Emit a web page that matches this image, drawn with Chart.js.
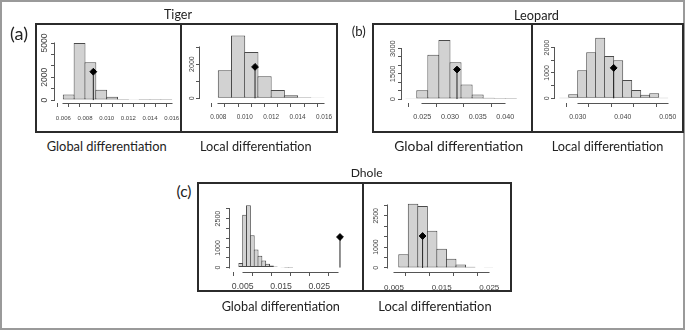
<!DOCTYPE html>
<html><head><meta charset="utf-8">
<script src="https://cdn.jsdelivr.net/npm/chart.js@4.4.1/dist/chart.umd.min.js"></script>
<style>
html,body{margin:0;padding:0;background:#fff;}
#page{position:relative;width:685px;height:330px;overflow:hidden;background:#fff;}
.frame{position:absolute;left:0;top:0;width:685px;height:330px;box-sizing:border-box;border:2px solid #9a9a9a;}
.box{position:absolute;box-sizing:border-box;border:2px solid #2b2b2b;}
.sep{position:absolute;width:2px;background:#2b2b2b;}
.lbl{position:absolute;white-space:nowrap;font-family:Lato,'Open Sans',sans-serif;color:#222;transform:translate(-50%,-50%);line-height:1;}
canvas{position:absolute;}
</style></head>
<body><div id="page">
<div class="frame"></div>
<div class="box" style="left:35px;top:23px;width:303px;height:110px;"></div>
<div class="sep" style="left:180px;top:23px;height:110px;"></div>
<div class="box" style="left:372px;top:23px;width:312px;height:110px;"></div>
<div class="sep" style="left:531px;top:23px;height:110px;"></div>
<div class="box" style="left:197px;top:182px;width:315px;height:110px;"></div>
<div class="sep" style="left:362px;top:182px;height:110px;"></div>
</div>
<script>
// ---------------- DATA ----------------
const tigerGlobalBinStart = 0.006, tigerGlobalBinWidth = 0.001;
const tigerGlobalCounts = [486, 5000, 3310, 910, 290, 90, 35, 8, 3, 2];
const tigerGlobalObserved = [0.00877, 2486];
const tigerGlobalXTicks = [0.006,0.007,0.008,0.009,0.010,0.011,0.012,0.013,0.014,0.015,0.016];
const tigerGlobalXLabels = ['0.006','','0.008','','0.010','','0.012','','0.014','','0.016'];
const tigerGlobalYTicks = [0,1000,2000,3000,4000,5000];
const tigerGlobalYLabels = ['0','','2000','','','5000'];

const tigerLocalBinStart = 0.007, tigerLocalBinWidth = 0.001;
const tigerLocalCounts = [40, 1644, 3675, 2708, 1296, 484, 174, 60, 15];
const tigerLocalObserved = [0.01078, 1837];
const tigerLocalXTicks = [0.008,0.009,0.010,0.011,0.012,0.013,0.014,0.015,0.016];
const tigerLocalXLabels = ['0.008','','0.010','','0.012','','0.014','','0.016'];
const tigerLocalYTicks = [0,1000,2000,3000];
const tigerLocalYLabels = ['0','','2000',''];

const leopardGlobalBinStart = 0.022, leopardGlobalBinWidth = 0.002;
const leopardGlobalCounts = [20, 526, 2630, 3510, 2183, 858, 273, 78, 10, 3];
const leopardGlobalObserved = [0.03127, 1754];
const leopardGlobalXTicks = [0.025,0.030,0.035,0.040];
const leopardGlobalXLabels = ['0.025','0.030','0.035','0.040'];
const leopardGlobalYTicks = [0,500,1000,1500,2000,2500,3000];
const leopardGlobalYLabels = ['0','','','1500','','','3000'];

const leopardLocalBinStart = 0.026, leopardLocalBinWidth = 0.002;
const leopardLocalCounts = [5, 157, 1111, 1817, 2392, 1673, 1503, 719, 327, 140, 196, 5];
const leopardLocalObserved = [0.0380, 1200];
const leopardLocalXTicks = [0.030,0.035,0.040,0.045,0.050];
const leopardLocalXLabels = ['0.030','','0.040','','0.050'];
const leopardLocalYTicks = [0,500,1000,1500,2000];
const leopardLocalYLabels = ['0','','1000','','2000'];

const dholeGlobalBinStart = 0.004, dholeGlobalBinWidth = 0.001;
const dholeGlobalCounts = [226, 2694, 3177, 1645, 919, 597, 355, 194, 100, 50, 25, 12, 6, 3];
const dholeGlobalObserved = [0.0304, 1560];
const dholeGlobalXTicks = [0.005,0.010,0.015,0.020,0.025,0.030];
const dholeGlobalXLabels = ['0.005','','0.015','','0.025',''];
const dholeGlobalYTicks = [0,500,1000,1500,2000,2500,3000];
const dholeGlobalYLabels = ['0','','1000','','','2500',''];

const dholeLocalBinStart = 0.006, dholeLocalBinWidth = 0.002;
const dholeLocalCounts = [651, 3076, 2970, 1788, 924, 439, 167, 60, 15, 5];
const dholeLocalObserved = [0.0110, 1532];
const dholeLocalXTicks = [0.005,0.010,0.015,0.020,0.025];
const dholeLocalXLabels = ['0.005','','0.015','','0.025'];
const dholeLocalYTicks = [0,500,1000,1500,2000,2500,3000];
const dholeLocalYLabels = ['0','','1000','','','2500',''];

// ---------------- LAYOUT ----------------
const page = document.getElementById('page');
const TL = 4, yW = 34, xH = 26, padR = 14;
const measCtx = document.createElement('canvas').getContext('2d');

const rAxes = {
  id: 'rAxes',
  afterDraw(chart) {
    const ctx = chart.ctx, xs = chart.scales.x, ys = chart.scales.y, a = chart.chartArea;
    const xt = xs.ticks, yt = ys.ticks;
    ctx.save(); ctx.strokeStyle = '#555'; ctx.lineWidth = 1;
    ctx.beginPath();
    const yb = Math.round(a.bottom) + 0.5;
    ctx.moveTo(Math.round(xs.getPixelForValue(xt[0].value)) - 0.5, yb);
    ctx.lineTo(Math.round(xs.getPixelForValue(xt[xt.length-1].value)) + 0.5, yb);
    const xl = Math.round(a.left) - 0.5;
    ctx.moveTo(xl, Math.round(ys.getPixelForValue(yt[0].value)) + 0.5);
    ctx.lineTo(xl, Math.round(ys.getPixelForValue(yt[yt.length-1].value)) - 0.5);
    ctx.stroke(); ctx.restore();
  }
};

function makeHist(d, L) {
  const areaW = L.right - L.left, areaH = L.bottom - L.top;
  const canvas = document.createElement('canvas');
  canvas.width = yW + areaW + padR; canvas.height = areaH + xH;
  canvas.style.left = (L.left - yW) + 'px'; canvas.style.top = L.top + 'px';
  page.appendChild(canvas);
  const kx = (L.xCal[3] - L.xCal[1]) / (L.xCal[2] - L.xCal[0]);
  const xmin = L.xCal[0] - (L.xCal[1] - L.left) / kx;
  const xmax = L.xCal[0] + (L.right - L.xCal[1]) / kx;
  const ky = (L.yCal[1] - L.yCal[3]) / (L.yCal[2] - L.yCal[0]);
  const ymin = L.yCal[0] - (L.bottom - L.yCal[1]) / ky;
  const ymax = L.yCal[0] + (L.yCal[1] - L.top) / ky;
  const binPx = d.binWidth * kx;
  measCtx.font = L.yFont + 'px Liberation Sans';
  const widest = Math.max(...d.yLabels.map(s => measCtx.measureText(s).width));
  const yPad = L.gY - TL - widest / 2;
  const xPad = L.xOff - TL - 0.6 * L.xFont;
  const bars = d.counts.map((c, i) => ({x: d.binStart + (i + 0.5) * d.binWidth, y: c}));
  new Chart(canvas, {
    type: 'bar',
    data: { datasets: [
      { type: 'line', data: [{x: d.obs[0], y: 0}, {x: d.obs[0], y: d.obs[1]}],
        borderColor: '#222', borderWidth: 1, pointRadius: [0, 3.4], pointHoverRadius: 0,
        pointStyle: 'rectRot', pointBackgroundColor: '#000', pointBorderColor: '#000',
        pointBorderWidth: 1, clip: false, order: 0, tension: 0 },
      { type: 'bar', data: bars, backgroundColor: '#d2d2d2', borderColor: '#4a4a4a',
        borderWidth: 1, borderSkipped: false, barPercentage: 1 + 1 / binPx,
        categoryPercentage: 1, order: 1, inflateAmount: 0 }
    ]},
    options: {
      responsive: false, animation: false, devicePixelRatio: 1, events: [],
      layout: { padding: {left: 0, top: 0, right: padR, bottom: 0}, autoPadding: false },
      plugins: { legend: {display: false}, tooltip: {enabled: false} },
      scales: {
        x: { type: 'linear', min: xmin, max: xmax, offset: false, bounds: 'data',
          afterBuildTicks: s => { s.ticks = d.xTicks.map(v => ({value: v})); },
          afterFit: s => { s.height = xH; },
          grid: { drawOnChartArea: false, drawTicks: true, tickLength: TL, color: '#555', lineWidth: 1 },
          border: { display: false },
          ticks: { autoSkip: false, minRotation: 0, maxRotation: 0, padding: xPad, color: '#444',
            font: {family: 'Liberation Sans', size: L.xFont}, callback: (v, i) => d.xLabels[i] } },
        y: { type: 'linear', min: ymin, max: ymax, bounds: 'data',
          afterBuildTicks: s => { s.ticks = d.yTicks.map(v => ({value: v})); },
          afterFit: s => { s.width = yW; },
          grid: { drawOnChartArea: false, drawTicks: true, tickLength: TL, color: '#555', lineWidth: 1 },
          border: { display: false },
          ticks: { autoSkip: false, minRotation: 90, maxRotation: 90, crossAlign: 'center', padding: yPad,
            color: '#444', font: {family: 'Liberation Sans', size: L.yFont}, callback: (v, i) => d.yLabels[i] } }
      }
    },
    plugins: [rAxes]
  });
}

makeHist({counts: tigerGlobalCounts, binStart: tigerGlobalBinStart, binWidth: tigerGlobalBinWidth, obs: tigerGlobalObserved,
  xTicks: tigerGlobalXTicks, xLabels: tigerGlobalXLabels, yTicks: tigerGlobalYTicks, yLabels: tigerGlobalYLabels},
  {left: 55, right: 175, top: 28, bottom: 103, xCal: [0.006, 63.3, 0.016, 171.7], yCal: [0, 100, 5000, 41.7], yFont: 8.5, xFont: 6, gY: 10, xOff: 15});
makeHist({counts: tigerLocalCounts, binStart: tigerLocalBinStart, binWidth: tigerLocalBinWidth, obs: tigerLocalObserved,
  xTicks: tigerLocalXTicks, xLabels: tigerLocalXLabels, yTicks: tigerLocalYTicks, yLabels: tigerLocalYLabels},
  {left: 200, right: 328, top: 28, bottom: 103, xCal: [0.008, 218.3, 0.016, 324], yCal: [0, 98.3, 3000, 46.7], yFont: 7, xFont: 6.4, gY: 8, xOff: 14});
makeHist({counts: leopardGlobalCounts, binStart: leopardGlobalBinStart, binWidth: leopardGlobalBinWidth, obs: leopardGlobalObserved,
  xTicks: leopardGlobalXTicks, xLabels: leopardGlobalXLabels, yTicks: leopardGlobalYTicks, yLabels: leopardGlobalYLabels},
  {left: 402, right: 519, top: 28, bottom: 103, xCal: [0.025, 422.3, 0.040, 505.3], yCal: [0, 99, 3000, 47.7], yFont: 7.5, xFont: 7.2, gY: 9, xOff: 14.5});
makeHist({counts: leopardLocalCounts, binStart: leopardLocalBinStart, binWidth: leopardLocalBinWidth, obs: leopardLocalObserved,
  xTicks: leopardLocalXTicks, xLabels: leopardLocalXLabels, yTicks: leopardLocalYTicks, yLabels: leopardLocalYLabels},
  {left: 555, right: 671, top: 28, bottom: 103, xCal: [0.030, 577.7, 0.050, 667.7], yCal: [0, 98.3, 2000, 47.3], yFont: 7, xFont: 6.8, gY: 8, xOff: 14});
makeHist({counts: dholeGlobalCounts, binStart: dholeGlobalBinStart, binWidth: dholeGlobalBinWidth, obs: dholeGlobalObserved,
  xTicks: dholeGlobalXTicks, xLabels: dholeGlobalXLabels, yTicks: dholeGlobalYTicks, yLabels: dholeGlobalYLabels},
  {left: 230, right: 343, top: 188, bottom: 272, xCal: [0.005, 242.7, 0.025, 319.3], yCal: [0, 267.3, 3000, 205.3], yFont: 7, xFont: 8.7, gY: 12, xOff: 15});
makeHist({counts: dholeLocalCounts, binStart: dholeLocalBinStart, binWidth: dholeLocalBinWidth, obs: dholeLocalObserved,
  xTicks: dholeLocalXTicks, xLabels: dholeLocalXLabels, yTicks: dholeLocalYTicks, yLabels: dholeLocalYLabels},
  {left: 388, right: 493, top: 188, bottom: 272, xCal: [0.005, 394, 0.025, 489.3], yCal: [0, 267.7, 3000, 201.7], yFont: 7, xFont: 8, gY: 12, xOff: 15.5});

// ---------------- TEXT ----------------
function placeLabel(text, cx, cy, w) {
  const el = document.createElement('div');
  el.className = 'lbl'; el.textContent = text;
  measCtx.font = '100px Lato';
  const m = measCtx.measureText(text).width;
  el.style.fontSize = (100 * w / m).toFixed(2) + 'px';
  el.style.left = cx + 'px'; el.style.top = cy + 'px';
  page.appendChild(el);
}
placeLabel('Tiger', 178, 15, 28);
placeLabel('Leopard', 536.5, 15, 45);
placeLabel('Dhole', 366.7, 173.3, 32);
placeLabel('(a)', 19, 33, 18);
placeLabel('(b)', 358.7, 32.3, 14);
placeLabel('(c)', 184, 192.3, 15);
placeLabel('Global differentiation', 106.7, 145.7, 120);
placeLabel('Local differentiation', 255.8, 145.7, 111.7);
placeLabel('Global differentiation', 458.8, 145.7, 129);
placeLabel('Local differentiation', 607.5, 145.7, 111.7);
placeLabel('Global differentiation', 280.8, 305.7, 118.3);
placeLabel('Local differentiation', 435, 305.7, 113.3);
</script>
</body></html>
